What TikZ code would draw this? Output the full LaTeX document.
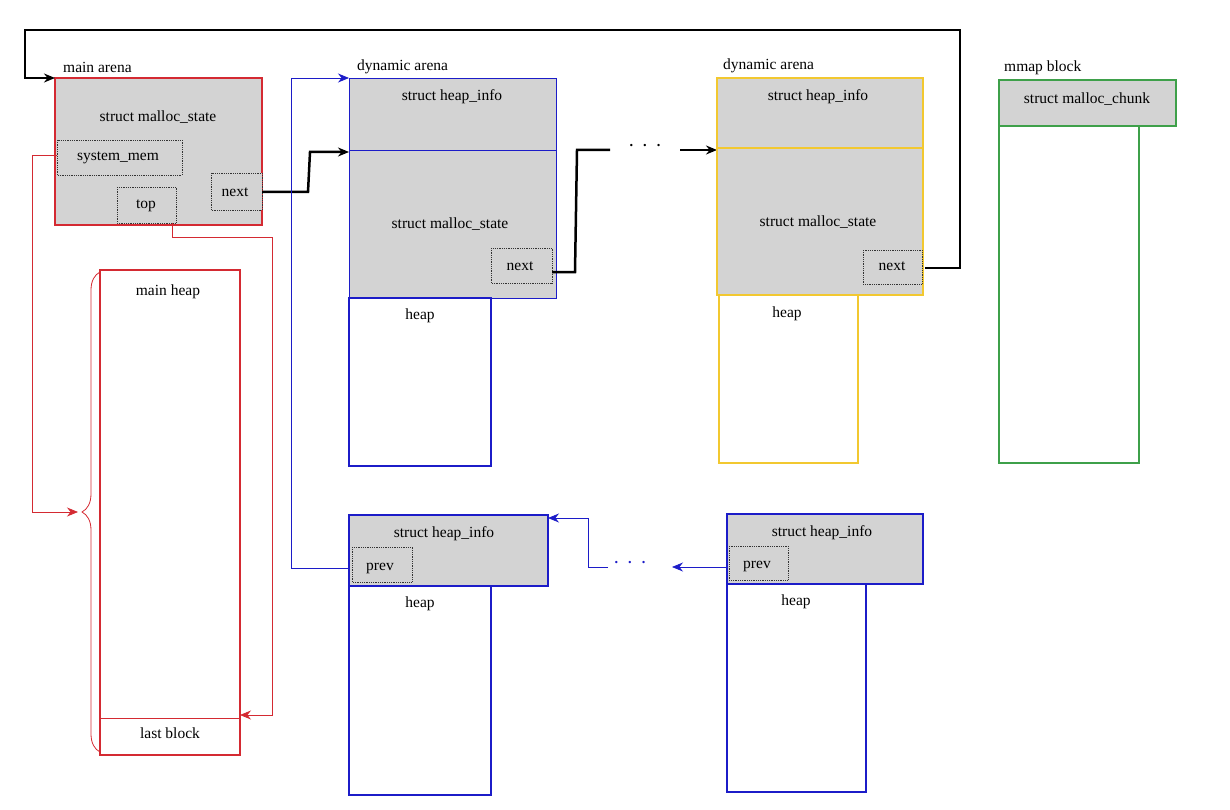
\documentclass[tikz,border=0pt]{standalone}
\usepackage{fontspec}
\setmainfont{Liberation Serif}
\usetikzlibrary{arrows.meta,decorations.pathreplacing}
\definecolor{rd}{HTML}{D42A32}
\definecolor{bl}{HTML}{1C1CC8}
\definecolor{yl}{HTML}{F2C830}
\definecolor{gr}{HTML}{3EA04A}
\definecolor{gy}{HTML}{D3D3D3}
\begin{document}
\begin{tikzpicture}[x=1pt,y=-1pt,
  t/.style={font=\fontsize{15.5}{18}\selectfont,inner sep=0pt},
  dot/.style={draw=black!80,densely dotted,thick,fill=gy},
  arr/.style={-{Stealth[length=11pt,width=9pt]}},
  box/.style={line width=2.2pt}]
\useasboundingbox (0,0) rectangle (1230,810);
% main arena
\node[t,anchor=west] (lma) at (63,67) {main arena};
\draw[box,rd,fill=gy] (55,78) coordinate (ma) rectangle (262,225);
\node[t] (ms0) at (158,117) {struct malloc\_state};
\draw[dot] (57,140) rectangle (182,175); \node[t] (sm) at (118,158) {system\_mem};
\draw[dot] (117,187) rectangle (176,223); \node[t] (tp) at (146,206) {top};
\draw[dot] (211,173) rectangle (262,210); \node[t] (n0) at (235,192) {next};
\draw[box,rd] (100,270) rectangle (240,755);
\draw[rd,thick] (100,718) -- (240,718);
\node[t] (mh) at (168,292) {main heap};
\node[t] (lb) at (170,733) {last block};
\draw[rd,thick,decorate,decoration={brace,amplitude=18pt}] (100,752) -- (100,272);
\coordinate (bt) at (78,512);
\draw[rd,thick,arr] (57,155) -- (32,155) -- (32,512) -- (bt);
\draw[rd,thick,arr] (172,223) -- (172,237) -- (272,237) -- (272,715) -- (240,715);
% loop
\draw[line width=2.5pt,arr] (925,268) -- (960,268) -- (960,30) -- (25,30) -- (25,78) -- (55,78);
% dynamic arena 1
\node[t,anchor=west] at (357,67) {dynamic arena};
\draw[bl,thick,fill=gy] (349,78) rectangle (556,150);
\draw[bl,thick,fill=gy] (349,150) rectangle (556,298);
\node[t] at (452,97) {struct heap\_info};
\node[t] at (450,224) {struct malloc\_state};
\draw[dot] (491,248) rectangle (552,283); \node[t] (n1) at (520,266) {next};
\draw[box,bl] (349,298) rectangle (491,466);
\node[t] at (420,316) {heap};
\draw[line width=2.5pt,arr] (262,192) -- (308,192) -- (310,152) -- (349,152);
\draw[bl,thick,arr] (349,568) -- (291,568) -- (291,78) -- (349,78);
\draw[line width=2.5pt] (552,272) -- (575,272) -- (577,150) -- (610,150);
\node[t,font=\Large\bfseries] at (645,146) {.\hspace{10pt}.\hspace{10pt}.};
\draw[line width=2.5pt,arr] (680,150) -- (717,150);
% yellow arena
\node[t,anchor=west] at (723,66) {dynamic arena};
\draw[box,yl,fill=gy] (717,78) rectangle (923,148);
\draw[box,yl,fill=gy] (717,148) rectangle (923,295);
\node[t] at (818,97) {struct heap\_info};
\node[t] at (818,222) {struct malloc\_state};
\draw[dot] (863,250) rectangle (922,284); \node[t] at (892,266) {next};
\draw[box,yl] (719,295) rectangle (858,463);
\node[t] at (787,314) {heap};
% mmap
\node[t,anchor=west] at (1004,68) {mmap block};
\draw[box,gr,fill=gy] (999,80) rectangle (1176,126);
\node[t] at (1087,99) {struct malloc\_chunk};
\draw[box,gr] (999,126) rectangle (1139,463);
% lower
\draw[box,bl,fill=gy] (349,515) rectangle (548,586);
\node[t] at (444,534) {struct heap\_info};
\draw[dot] (352,547) rectangle (412,582); \node[t] at (380,568) {prev};
\draw[box,bl] (349,586) rectangle (491,795);
\node[t] at (420,604) {heap};
\draw[box,bl,fill=gy] (727,514) rectangle (923,584);
\node[t] at (822,533) {struct heap\_info};
\draw[dot] (729,546) rectangle (788,580); \node[t] at (757,566) {prev};
\draw[box,bl] (727,584) rectangle (866,792);
\node[t] at (796,602) {heap};
\draw[bl,thick,arr] (727,567) -- (672,567);
\node[t,bl,font=\Large\bfseries] at (630,563) {.\hspace{10pt}.\hspace{10pt}.};
\draw[bl,thick,arr] (608,567) -- (588,567) -- (588,518) -- (548,518);
\end{tikzpicture}
\end{document}
